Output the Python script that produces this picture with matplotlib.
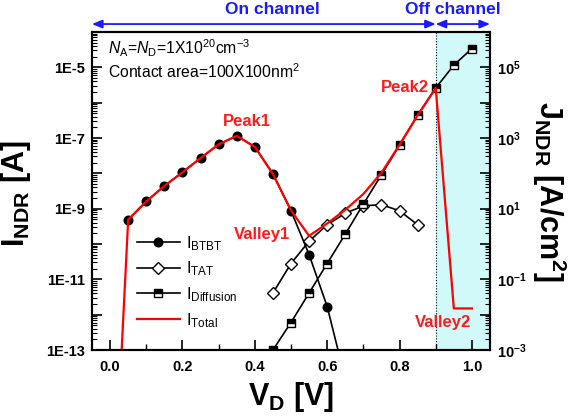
import matplotlib
matplotlib.use("Agg")
import matplotlib.pyplot as plt
from matplotlib.ticker import FixedLocator, FixedFormatter, NullFormatter

plt.rcParams['font.family'] = ['Liberation Sans', 'DejaVu Sans']
plt.rcParams['mathtext.fontset'] = 'custom'
plt.rcParams['mathtext.rm'] = 'Liberation Sans'
plt.rcParams['mathtext.it'] = 'Liberation Sans:italic'
plt.rcParams['mathtext.bf'] = 'Liberation Sans:bold'

# ---------------- data ----------------
v_btbt = [0.05, 0.10, 0.15, 0.20, 0.25, 0.30, 0.35, 0.40, 0.45, 0.50, 0.55, 0.60, 0.65]
i_btbt = [4.9e-10, 1.6e-9, 4.4e-9, 1.07e-8, 2.7e-8, 6.6e-8, 1.15e-7, 5.6e-8, 9.6e-9,
          8.7e-10, 5.0e-11, 1.7e-12, 1.5e-14]

v_tat = [0.45, 0.50, 0.55, 0.60, 0.65, 0.70, 0.75, 0.80, 0.85]
i_tat = [4.1e-12, 2.8e-11, 1.2e-10, 3.5e-10, 7.4e-10, 1.2e-9, 1.3e-9, 8.7e-10, 3.5e-10]

v_diff = [0.45, 0.50, 0.55, 0.60, 0.65, 0.70, 0.75, 0.80, 0.85, 0.90, 0.95, 1.00]
i_diff = [1.0e-13, 6.0e-13, 4.1e-12, 2.8e-11, 1.9e-10, 1.35e-9, 9.1e-9, 6.3e-8, 4.4e-7,
          2.6e-6, 1.15e-5, 3.4e-5]

v_total = [0.00, 0.05, 0.10, 0.15, 0.20, 0.25, 0.30, 0.35, 0.40, 0.45, 0.50, 0.55, 0.60,
           0.65, 0.70, 0.75, 0.80, 0.85, 0.90, 0.95, 1.00]
i_total = [2.8e-20, 4.9e-10, 1.6e-9, 4.4e-9, 1.07e-8, 2.7e-8, 6.6e-8, 1.15e-7, 5.6e-8,
           9.6e-9, 8.9e-10, 1.7e-10, 3.8e-10, 9.3e-10, 2.6e-9, 1.04e-8, 6.4e-8, 4.4e-7,
           2.6e-6, 1.5e-12, 1.5e-12]

x_ticks = [0.0, 0.2, 0.4, 0.6, 0.8, 1.0]
x_ticklabels = ['0.0', '0.2', '0.4', '0.6', '0.8', '1.0']
left_exps = [-13, -11, -9, -7, -5]
left_ticklabels = ['1E-13', '1E-11', '1E-9', '1E-7', '1E-5']
right_exps = [-3, -1, 1, 3, 5]
right_ticklabels = [r'$\mathbf{10^{-3}}$', r'$\mathbf{10^{-1}}$', r'$\mathbf{10^{1}}$',
                    r'$\mathbf{10^{3}}$', r'$\mathbf{10^{5}}$']

# ---------------- figure ----------------
fig = plt.figure(figsize=(5.75, 4.2), dpi=100)
ax = fig.add_axes([92/575, 70/420, 398/575, 318/420])
ax.set_xlim(-0.05, 1.05)
ax.set_yscale('log')
ax.set_ylim(1e-13, 1e-4)

ax.axvspan(0.9, 1.05, color='#d2f9f9', zorder=0, lw=0)
ax.axvline(0.9, color='black', ls=(0, (1, 1.5)), lw=0.8, zorder=1)

ax.plot(v_btbt, i_btbt, color='black', lw=1.2, marker='o', ms=6.2,
        mfc='black', mec='black', zorder=3, label=r'I$_{\mathrm{BTBT}}$')
ax.plot(v_tat, i_tat, color='black', lw=1.2, marker='D', ms=6.2,
        mfc='white', mec='black', mew=1.0, zorder=3, label=r'I$_{\mathrm{TAT}}$')
ax.plot(v_diff, i_diff, color='black', lw=1.2, marker='s', ms=6.0,
        fillstyle='top', mfc='black', mfcalt='white', mec='black', mew=1.0,
        zorder=3, label=r'I$_{\mathrm{Diffusion}}$')
ax.plot(v_total, i_total, color='red', lw=1.6, zorder=4, label=r'I$_{\mathrm{Total}}$')

# ticks
ax.xaxis.set_major_locator(FixedLocator(x_ticks))
ax.xaxis.set_major_formatter(FixedFormatter(x_ticklabels))
ax.xaxis.set_minor_locator(FixedLocator([0.1, 0.3, 0.5, 0.7, 0.9]))
ax.tick_params(axis='x', which='major', direction='in', length=7, width=1.2,
               labelsize=10.5, pad=7, top=False)
ax.tick_params(axis='x', which='minor', direction='in', length=4, width=1.0, top=False)

all_exp = list(range(-13, -3))
ax.yaxis.set_major_locator(FixedLocator([10.0**e for e in all_exp]))
ax.yaxis.set_major_formatter(FixedFormatter(
    [left_ticklabels[left_exps.index(e)] if e in left_exps else '' for e in all_exp]))
ax.yaxis.set_minor_locator(FixedLocator([m * 10.0**e for e in range(-13, -4) for m in range(2, 10)]))
ax.yaxis.set_minor_formatter(NullFormatter())
ax.tick_params(axis='y', which='major', direction='in', length=7, width=1.2,
               labelsize=10.5, pad=5, right=False)
ax.tick_params(axis='y', which='minor', direction='in', length=3.5, width=0.8, right=False)
for lab in ax.get_xticklabels() + ax.get_yticklabels():
    lab.set_fontweight('bold')
for sp in ax.spines.values():
    sp.set_linewidth(1.5)

ax2 = ax.twinx()
ax2.set_yscale('log')
ax2.set_ylim(1e-3, 1e6)
all_exp2 = list(range(-3, 7))
ax2.yaxis.set_major_locator(FixedLocator([10.0**e for e in all_exp2]))
ax2.yaxis.set_major_formatter(FixedFormatter(
    [right_ticklabels[right_exps.index(e)] if e in right_exps else '' for e in all_exp2]))
ax2.yaxis.set_minor_locator(FixedLocator([m * 10.0**e for e in range(-3, 6) for m in range(2, 10)]))
ax2.yaxis.set_minor_formatter(NullFormatter())
ax2.tick_params(axis='y', which='major', direction='in', length=7, width=1.2,
                labelsize=10.5, pad=5)
ax2.tick_params(axis='y', which='minor', direction='in', length=3.5, width=0.8)
for sp in ax2.spines.values():
    sp.set_linewidth(1.5)

# legend
leg = ax.legend(loc='upper left', bbox_to_anchor=(0.112, 0.365), frameon=False,
                fontsize=12, handlelength=2.6, handletextpad=0.35, labelspacing=0.42,
                borderaxespad=0, borderpad=0)

# annotations
ax.text(0.04, 0.95, r'$\mathit{N}_{\mathrm{A}}$=$\mathit{N}_{\mathrm{D}}$=1X10$^{20}$cm$^{-3}$',
        transform=ax.transAxes, fontsize=11.3, ha='left', va='center')
ax.text(0.04, 0.874, r'Contact area=100X100nm$^{2}$',
        transform=ax.transAxes, fontsize=11.3, ha='left', va='center')

red_kw = dict(transform=ax.transAxes, color='#ff1a1a', fontsize=12, fontweight='bold',
              ha='center', va='center')
ax.text(0.389, 0.72, 'Peak1', **red_kw)
ax.text(0.786, 0.827, 'Peak2', **red_kw)
ax.text(0.427, 0.362, 'Valley1', **red_kw)
ax.text(0.882, 0.088, 'Valley2', **red_kw)

blue = '#1a1aff'
ax.text(0.452, 1.072, 'On channel', transform=ax.transAxes, color=blue, fontsize=12.5,
        fontweight='bold', ha='center', va='center', clip_on=False)
ax.text(0.907, 1.072, 'Off channel', transform=ax.transAxes, color=blue, fontsize=12.5,
        fontweight='bold', ha='center', va='center', clip_on=False)
tr = ax.get_xaxis_transform()
arrow_kw = dict(arrowstyle='<|-|>,head_length=0.6,head_width=0.25', color=blue, lw=1.3,
                shrinkA=0, shrinkB=0)
ax.annotate('', xy=(-0.05, 1.025), xytext=(0.9, 1.025), xycoords=tr, textcoords=tr,
            arrowprops=arrow_kw, annotation_clip=False)
ax.annotate('', xy=(0.9, 1.025), xytext=(1.05, 1.025), xycoords=tr, textcoords=tr,
            arrowprops=arrow_kw, annotation_clip=False)

# axis labels
fig.text(16/575, (420-194)/420, r'I$_{\mathbf{NDR}}$ [A]', rotation=90, fontsize=22,
         fontweight='bold', ha='center', va='center')
fig.text(549/575, (420-191)/420, r'J$_{\mathbf{NDR}}$ [A/cm$^{\mathbf{2}}$]', rotation=-90,
         fontsize=22, fontweight='bold', ha='center', va='center')
fig.text(291/575, (420-405)/420, r'V$_{\mathbf{D}}$ [V]', fontsize=22, fontweight='bold',
         ha='center', va='baseline')

fig.savefig('out.png', dpi=100)
